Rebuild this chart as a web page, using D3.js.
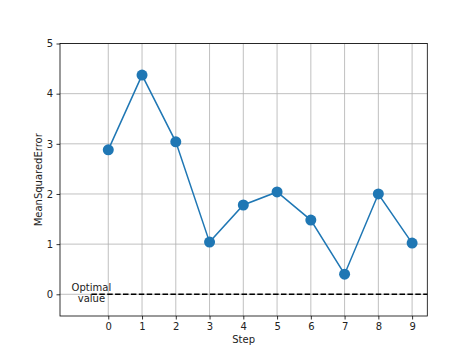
<!DOCTYPE html>
<html>
<head>
<meta charset="utf-8">
<script src="https://cdn.jsdelivr.net/npm/d3@7"></script>
<style>
  html, body { margin: 0; padding: 0; background: #fff; }
  svg { display: block; font-family: "DejaVu Sans", sans-serif; }
</style>
</head>
<body>
<svg id="chart" width="474" height="355"></svg>
<script>
const steps = [0, 1, 2, 3, 4, 5, 6, 7, 8, 9];
const mseValues = [2.88, 4.37, 3.04, 1.04, 1.78, 2.04, 1.48, 0.40, 2.00, 1.02];
const xTicks = [0, 1, 2, 3, 4, 5, 6, 7, 8, 9];
const yTicks = [0, 1, 2, 3, 4, 5];
const optimalValue = 0;
const optimalLabel = ["Optimal", "value"];
const xLabel = "Step";
const yLabel = "MeanSquaredError";

const W = 474, H = 355;
const mLeft = 60, mRight = 427.3, mTop = 43.5, mBottom = 316;

const x = d3.scaleLinear().domain([-1.43, 9.45]).range([mLeft, mRight]);
const y = d3.scaleLinear().domain([-0.433, 5]).range([mBottom, mTop]);

const svg = d3.select("#chart");
const textColor = "#222";

// clip
svg.append("defs").append("clipPath").attr("id", "clip")
  .append("rect").attr("x", mLeft).attr("y", mTop).attr("width", mRight - mLeft).attr("height", mBottom - mTop);

// grid
const grid = svg.append("g");
grid.selectAll(".gx").data(xTicks).enter().append("line")
  .attr("x1", d => x(d)).attr("x2", d => x(d))
  .attr("y1", mTop).attr("y2", mBottom)
  .attr("stroke", "#b0b0b0").attr("stroke-width", 0.8);
grid.selectAll(".gy").data(yTicks).enter().append("line")
  .attr("x1", mLeft).attr("x2", mRight)
  .attr("y1", d => y(d)).attr("y2", d => y(d))
  .attr("stroke", "#b0b0b0").attr("stroke-width", 0.8);

// optimal dashed line
svg.append("line")
  .attr("clip-path", "url(#clip)")
  .attr("x1", x(-0.5)).attr("x2", x(9.5))
  .attr("y1", y(optimalValue)).attr("y2", y(optimalValue))
  .attr("stroke", "#000").attr("stroke-width", 1.5)
  .attr("stroke-dasharray", "5.5,2.4");

// optimal label
const ot = svg.append("text")
  .attr("x", x(-0.5)).attr("y", y(optimalValue))
  .attr("text-anchor", "middle")
  .attr("font-size", 10).attr("fill", textColor);
ot.append("tspan").attr("x", x(-0.5)).attr("dy", -3.3).text(optimalLabel[0]);
ot.append("tspan").attr("x", x(-0.5)).attr("dy", 11).text(optimalLabel[1]);

// line + markers
const line = d3.line().x((d, i) => x(steps[i])).y(d => y(d));
svg.append("path").datum(mseValues)
  .attr("d", line)
  .attr("fill", "none").attr("stroke", "#1f77b4").attr("stroke-width", 1.5);
svg.selectAll(".pt").data(mseValues).enter().append("circle")
  .attr("cx", (d, i) => x(steps[i])).attr("cy", d => y(d))
  .attr("r", 5.5).attr("fill", "#1f77b4");

// axes
const xAxis = svg.append("g").attr("transform", `translate(0,${mBottom})`)
  .call(d3.axisBottom(x).tickValues(xTicks).tickFormat(d3.format("d")).tickSize(3.5).tickPadding(3.5).tickSizeOuter(0));
const yAxis = svg.append("g").attr("transform", `translate(${mLeft},0)`)
  .call(d3.axisLeft(y).tickValues(yTicks).tickFormat(d3.format("d")).tickSize(3.5).tickPadding(3.5).tickSizeOuter(0));
[xAxis, yAxis].forEach(a => {
  a.select(".domain").remove();
  a.selectAll("text").attr("font-size", 10).attr("fill", textColor).attr("font-family", "DejaVu Sans, sans-serif");
  a.selectAll("line").attr("stroke", "#000").attr("stroke-width", 0.8);
});

// frame
svg.append("rect").attr("x", mLeft).attr("y", mTop)
  .attr("width", mRight - mLeft).attr("height", mBottom - mTop)
  .attr("fill", "none").attr("stroke", "#000").attr("stroke-width", 0.8);

// axis labels
svg.append("text").attr("x", (mLeft + mRight) / 2).attr("y", 342.5)
  .attr("text-anchor", "middle").attr("font-size", 10).attr("fill", textColor).text(xLabel);
svg.append("text").attr("transform", `translate(41.5,${(mTop + mBottom) / 2}) rotate(-90)`)
  .attr("text-anchor", "middle").attr("font-size", 10).attr("fill", textColor).text(yLabel);
</script>
</body>
</html>
